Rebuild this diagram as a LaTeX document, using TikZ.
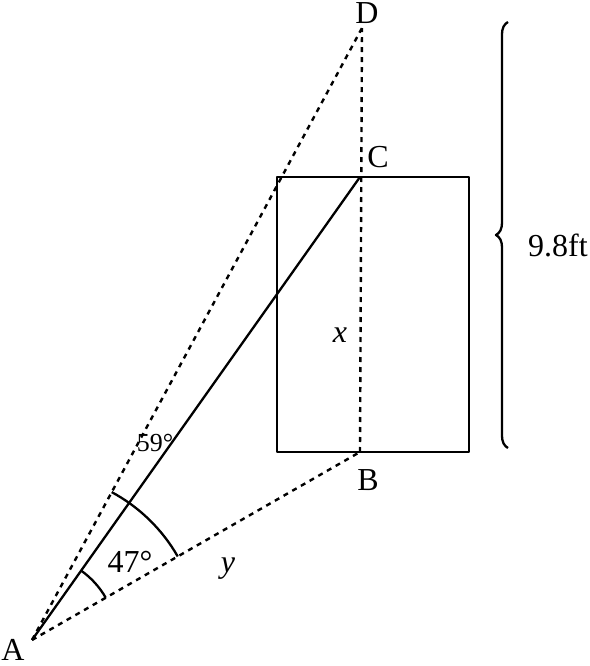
\documentclass[tikz,border=0pt]{standalone}
\usepackage{fontspec}
\setmainfont{Liberation Serif}
\usetikzlibrary{angles,calc,decorations.pathreplacing}
\tikzset{
  solid edge/.style={line width=1.15pt},
  hidden edge/.style={line width=1.2pt, dash pattern=on 2.5pt off 2.5pt},
  point label/.style={font=\fontsize{16}{18}\selectfont, inner sep=0pt},
  small label/.style={font=\fontsize{13}{15}\selectfont, inner sep=0pt}
}
\begin{document}
\begin{tikzpicture}[x=0.5pt, y=0.5pt, line join=round]
 \useasboundingbox (0,0) rectangle (590,666);
 \coordinate (A) at (32,26);
 \coordinate (B) at (360,214);
 \coordinate (C) at (360,489);
 \coordinate (D) at (362,638);
 \coordinate (brace bottom) at (508,218);
 \coordinate (brace top) at (508,644);
 % wall and sight lines
 \draw[solid edge] (277,214) rectangle (469,489);
 \draw[hidden edge] (A) -- (D) (A) -- (B) (B) -- (D);
 \draw[solid edge] (A) -- (C);
 \pic[draw, solid edge, angle radius=42.5pt] {angle=B--A--C};
 \pic[draw, solid edge, angle radius=84pt] {angle=B--A--D};
 \draw[solid edge, decorate, decoration={brace, amplitude=6pt}] (brace bottom) -- (brace top);
 % labels
 \node[point label] (lA) at (13,16) {A};
 \node[point label] (lB) at (368,186) {B};
 \node[point label] (lC) at (378,509) {C};
 \node[point label] (lD) at (367,653) {D};
 \node[point label] (lx) at (340,331) {\textit{x}};
 \node[point label] (ly) at (228,97) {\textit{y}};
 \node[point label] (l47) at (130,104) {47°};
 \node[small label] (l59) at (155,223) {59°};
 \node[point label] (height) at (558,421) {9.8ft};
\end{tikzpicture}
\end{document}
